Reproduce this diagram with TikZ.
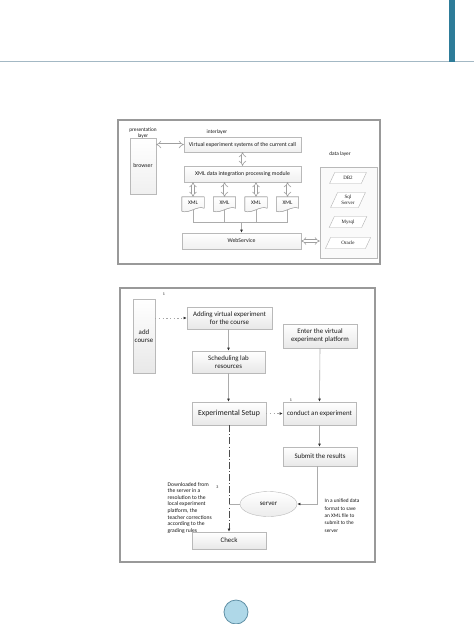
\documentclass[tikz,border=0pt]{standalone}
\usepackage{fontspec}
\setmainfont{Carlito}
\newfontfamily\dbfont{Liberation Serif}
\usetikzlibrary{arrows.meta,shapes.geometric,calc}
\definecolor{hdrline}{HTML}{A3B8C4}
\definecolor{barblue}{HTML}{2E7C99}
\definecolor{circfill}{HTML}{AFD8E8}
\definecolor{circline}{HTML}{5F8FA5}
\definecolor{txt}{HTML}{1A1A1A}
\tikzset{
  frame/.style={draw=gray!80, line width=1.1pt},
  box1/.style={draw=gray!55, top color=white, bottom color=gray!12, inner sep=0pt, text=txt, font=\fontsize{5.8}{6.6}\selectfont, align=center},
  box2/.style={draw=gray!55, top color=white, bottom color=gray!18, inner sep=0pt, text=txt, font=\fontsize{6.9}{8.2}\selectfont, align=center},
  lbl/.style={text=txt, inner sep=0pt, align=center, font=\fontsize{5.3}{6.2}\selectfont},
  tiny/.style={text=txt, inner sep=0pt, font=\fontsize{4}{4}\selectfont},
  dbl/.style={draw=gray!75, double=white, double distance=2pt, line width=0.6pt, {Implies[length=2.4pt,width=6pt]}-{Implies[length=2.4pt,width=6pt]}},
  conn/.style={draw=gray!65, line width=0.6pt},
  arr/.style={draw=gray!65, line width=0.6pt, -{Latex[length=3.2pt,width=2.8pt,color=black!80]}},
  dotarr/.style={draw=gray!70, line width=0.6pt, dash pattern=on 1.2pt off 2.5pt, -{Latex[length=3.2pt,width=2.8pt,color=black!80]}},
  dasharr/.style={draw=black!70, line width=0.6pt, dash pattern=on 7pt off 2.2pt on 0.8pt off 2.2pt, -{Latex[length=3.2pt,width=2.8pt,color=black!80]}},
  para/.style={shape=trapezium, trapezium left angle=65, trapezium right angle=115, draw=gray!60, fill=white, inner sep=0.5pt, minimum width=22pt, minimum height=11pt, text=txt, font=\dbfont\fontsize{5}{5.6}\selectfont, align=center},
  xmlbody/.style={inner sep=0pt, minimum width=22pt, minimum height=12pt, text=txt, font=\fontsize{5.5}{6}\selectfont},
  xmlshape/.style={draw=gray!60, top color=white, bottom color=gray!10}
}
\begin{document}
\begin{tikzpicture}[x=1pt,y=-1pt]
\useasboundingbox (0,0) rectangle (474,624);
\fill[white] (0,0) rectangle (474,624);
% page header
\draw[hdrline, line width=0.9pt] (0,61) -- (474,61);
\fill[barblue] (449,0) rectangle (455,61.5);

% ---------------- Figure 1 ----------------
\draw[frame] (118,120) rectangle (380,264);
\node[lbl] (plabel) at (143,133) {presentation\\layer};
\node[box1, minimum width=26pt, minimum height=56pt] (browser) at (143,166) {browser};
\node[lbl] (ilabel) at (217,132) {interlayer};
\node[box1, minimum width=117pt, minimum height=15pt] (virtual) at (242.5,144.5) {Virtual experiment systems of the current call};
\node[box1, minimum width=117pt, minimum height=16pt] (xmlmod) at (242.5,174) {XML data integration processing module};
\foreach \i/\x in {1/193,2/224.5,3/256,4/287.5}{
  \node[xmlbody] (xml\i) at (\x,203) {};
  \fill[xmlshape] (xml\i.north west) -- (xml\i.north east) -- ($(xml\i.south east)+(0,-1)$)
     .. controls ($(xml\i.south east)+(-7,-4)$) and ($(xml\i.south west)+(7,5)$) .. ($(xml\i.south west)+(0,2)$) -- cycle;
  \draw[draw=gray!60] (xml\i.north west) -- (xml\i.north east) -- ($(xml\i.south east)+(0,-1)$)
     .. controls ($(xml\i.south east)+(-7,-4)$) and ($(xml\i.south west)+(7,5)$) .. ($(xml\i.south west)+(0,2)$) -- cycle;
  \node[xmlbody] at (xml\i) {XML};
}
\node[box1, minimum width=119pt, minimum height=16pt] (webservice) at (241.5,241) {WebService};
\node[lbl] (dlabel) at (340,154) {data layer};
\node[draw=gray!55, fill=gray!4, minimum width=57pt, minimum height=91pt, inner sep=0pt] (datalayer) at (348.5,212.5) {};
\node[para] (db2) at (348,178) {DB2};
\node[para, minimum height=15pt] (sqlserver) at (348,200) {Sql\\Server};
\node[para] (mysql) at (348,222) {Mysql};
\node[para] (oracle) at (348,243) {Oracle};

\draw[dbl] (browser.east |- virtual.west) -- (virtual.west);
\draw[dbl] (virtual.south) -- (xmlmod.north);
\foreach \i in {1,2,3,4}{
  \draw[dbl] (xml\i.north |- xmlmod.south) -- (xml\i.north);
}
\draw[dbl] (webservice.east) -- (datalayer.west |- webservice.east);
\coordinate (join) at (241.5,222);
\foreach \i in {1,2,3,4}{
  \draw[conn] ($(xml\i.south)+(0,1)$) -- (xml\i.south |- join);
}
\draw[conn] (xml1.south |- join) -- (xml4.south |- join);
\draw[arr] (join) -- (webservice.north);

% ---------------- Figure 2 ----------------
\draw[frame] (120,288) rectangle (375,562);
\node[box2, minimum width=22pt, minimum height=74pt] (addcourse) at (144,336) {add\\course};
\node[tiny] (n1a) at (164,294) {1};
\node[box2, minimum width=85pt, minimum height=22pt] (adding) at (229.5,318) {Adding virtual experiment\\for the course};
\node[box2, minimum width=73pt, minimum height=22pt] (sched) at (228.5,362) {Scheduling lab\\resources};
\node[box2, minimum width=74pt, minimum height=23pt, font=\fontsize{7.8}{9}\selectfont] (expsetup) at (229,413.5) {Experimental Setup};
\node[box2, minimum width=74pt, minimum height=24pt] (enter) at (320,336) {Enter the virtual\\experiment platform};
\node[box2, minimum width=73pt, minimum height=23pt] (conduct) at (319.5,413.5) {conduct an experiment};
\node[tiny] (n1b) at (291,400) {1};
\node[box2, minimum width=74pt, minimum height=19pt] (submit) at (320,456.5) {Submit the results};
\node[ellipse, draw=gray!55, top color=white, bottom color=gray!15, minimum width=57pt, minimum height=25pt, inner sep=0pt, text=txt, font=\fontsize{6.9}{8}\selectfont] (server) at (268.5,504) {server};
\node[box2, minimum width=74pt, minimum height=17pt] (check) at (229,540.5) {Check};
\node[text=txt, inner sep=0pt, anchor=north west, align=left, font=\fontsize{5.6}{6.6}\selectfont] (lefttext) at (167.5,482) {Downloaded from\\the server in a\\resolution to the\\local experiment\\platform, the\\teacher corrections\\according to the\\grading rules};
\node[tiny] (n3) at (217.5,487.5) {3};
\node[text=txt, inner sep=0pt, anchor=north west, align=left, font=\fontsize{5.3}{7.3}\selectfont] (righttext) at (324.5,499) {In a unified data\\format to save\\an XML file to\\submit to the\\server};

\draw[dotarr] (addcourse.east |- adding.west) -- (adding.west);
\draw[arr] (sched.north |- adding.south) -- (sched.north);
\draw[arr] (sched.south) -- (sched.south |- expsetup.north);
\draw[dotarr] (expsetup.east) -- (conduct.west);
\draw[arr] (enter.south) -- (conduct.north);
\draw[arr] (conduct.south) -- (conduct.south |- submit.north);
\draw[arr] ([xshift=-3pt]submit.south) |- (server.east);
\draw[dasharr] (expsetup.south) -- (expsetup.south |- check.north);
\draw[conn] (server.west) -- (server.west -| expsetup.south);

% page number circle
\draw[circline, fill=circfill, line width=0.8pt] (236,612) circle (12);
\end{tikzpicture}
\end{document}
